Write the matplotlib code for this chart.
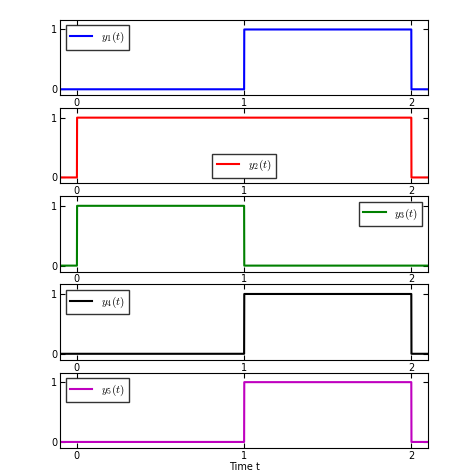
import numpy as np
import matplotlib.pyplot as plt

plt.rcParams['mathtext.fontset'] = 'cm'

t = [-0.1, 0.0, 0.001, 1.0, 1.001, 2.0, 2.001, 2.1]
y1 = [0, 0, 0, 0, 1, 1, 0, 0]
y2 = [0, 0, 1, 1, 1, 1, 0, 0]
y3 = [0, 0, 1, 1, 0, 0, 0, 0]
y4 = [0, 0, 0, 0, 1, 1, 0, 0]
y5 = [0, 0, 0, 0, 1, 1, 0, 0]
series = [y1, y2, y3, y4, y5]
colors = ['blue', 'red', 'green', 'black', 'm']
locs = ['upper left', 'lower center', 'upper right', 'upper left', 'upper left']

fig, axes = plt.subplots(5, 1, figsize=(4.74, 4.74), dpi=100)
fig.subplots_adjust(left=0.127, right=0.903, top=0.958, bottom=0.055, hspace=0.17)
for i, ax in enumerate(axes):
    ax.plot(t, series[i], color=colors[i], lw=1.5, label='$y_%d(t)$' % (i + 1))
    ax.set_xlim(-0.1, 2.1)
    ax.set_ylim(-0.1, 1.16)
    ax.set_xticks([0, 1, 2])
    ax.set_yticks([0, 1])
    ax.tick_params(direction='in', top=True, right=True, labelsize=7, pad=2)
    leg = ax.legend(loc=locs[i], fontsize=8, fancybox=False, handlelength=2)
    leg.get_frame().set_edgecolor('black')
axes[-1].set_xlabel('Time t', fontsize=7, labelpad=1)
fig.savefig('out.png')
